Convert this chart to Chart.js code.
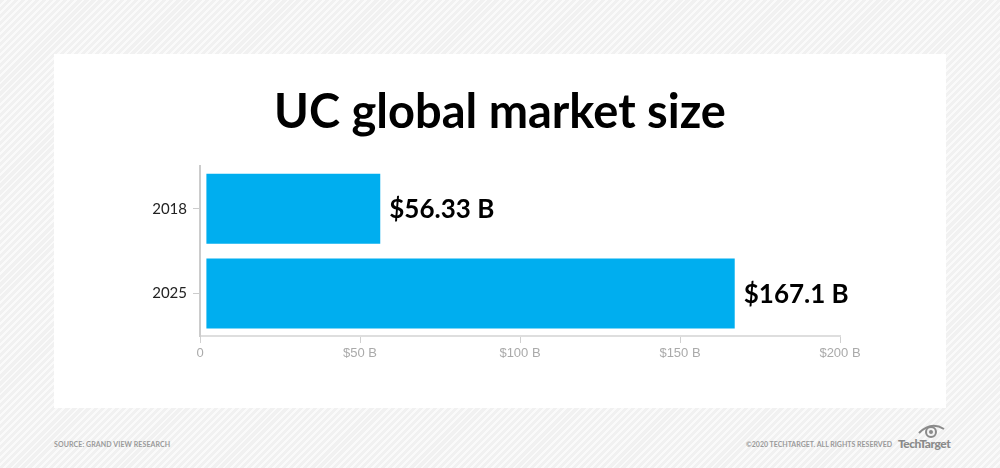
<!DOCTYPE html>
<html>
<head>
<meta charset="utf-8">
<script src="https://cdn.jsdelivr.net/npm/chart.js@4.4.1/dist/chart.umd.min.js"></script>
<style>
  html, body { margin: 0; padding: 0; }
  body {
    width: 1000px; height: 468px; position: relative; overflow: hidden;
    background-color: #f1f1f1;
    background-image: repeating-linear-gradient(135deg, #f1f1f1 0px, #f1f1f1 3px, #fafafa 3px, #fafafa 5px);
    font-family: Lato, "Noto Sans", sans-serif;
  }
  #panel { position: absolute; left: 54px; top: 54px; width: 892px; height: 354px; background: #fff; }
  #source { position: absolute; left: 54px; top: 440px; font-size: 7px; font-weight: bold; color: #9a9a9a; letter-spacing: 0.1px; }
  #copy { position: absolute; right: 108px; top: 440px; font-size: 7px; font-weight: bold; color: #9a9a9a; }
  #logo { position: absolute; left: 898px; top: 436px; font-size: 12px; font-weight: 900; color: #8a8a8a; letter-spacing: -0.5px; font-family: "Liberation Sans Narrow", Lato, sans-serif; }
  #eye { position: absolute; left: 917px; top: 423px; }
</style>
</head>
<body>
<div id="panel"><canvas id="graficoBarras" width="892" height="354"></canvas></div>
<div id="source">SOURCE: GRAND VIEW RESEARCH</div>
<div id="copy">©2020 TECHTARGET. ALL RIGHTS RESERVED</div>
<svg id="eye" width="30" height="16" viewBox="0 0 30 16">
  <path d="M2 10 Q14 -2 27 6" stroke="#8a8a8a" stroke-width="2" fill="none"/>
  <circle cx="14" cy="9" r="5" fill="none" stroke="#8a8a8a" stroke-width="2"/>
  <circle cx="14" cy="9" r="2" fill="#8a8a8a"/>
</svg>
<div id="logo">TechTarget</div>
<script>
// dados do gráfico
var anos = ['2018', '2025'];
var valores = [56.33, 167.1];
var ticksX = [0, 50, 100, 150, 200];

var contexto = document.getElementById('graficoBarras').getContext('2d');

// rótulos de valor ao lado das barras
var rotulosValor = {
    id: 'rotulosValor',
    afterDatasetsDraw: function(chart) {
        var ctx = chart.ctx;
        var meta = chart.getDatasetMeta(0);
        ctx.save();
        ctx.font = 'bold 26px Lato';
        ctx.fillStyle = '#000';
        ctx.textBaseline = 'middle';
        ctx.textAlign = 'left';
        meta.data.forEach(function(barra, i) {
            ctx.fillText('$' + valores[i] + ' B', barra.x + 9, barra.y + 1);
        });
        ctx.restore();
    }
};

var grafico = new Chart(contexto, {
    type: 'bar',
    data: {
        labels: anos,
        datasets: [{
            data: valores,
            backgroundColor: '#00aeef',
            base: 2,
            barPercentage: 0.825,
            categoryPercentage: 1
        }]
    },
    options: {
        indexAxis: 'y',
        responsive: false,
        animation: false,
        layout: { padding: 0 },
        plugins: {
            legend: { display: false },
            tooltip: { enabled: false },
            title: {
                display: true,
                text: 'UC global market size',
                color: '#000',
                font: { family: 'Lato', size: 47, weight: 'bold' },
                padding: { top: 31, bottom: 25 }
            }
        },
        scales: {
            x: {
                min: 0,
                max: 200,
                afterBuildTicks: function(escala) {
                    escala.ticks = ticksX.map(function(v) { return { value: v }; });
                },
                afterFit: function(escala) {
                    escala.height = 72;
                    escala.paddingRight = 106;
                },
                border: { color: '#dedede', width: 2 },
                grid: { drawOnChartArea: false, tickLength: 7, color: '#d0d0d0' },
                ticks: {
                    color: '#aaaaaa',
                    padding: 3,
                    font: { family: '"Liberation Sans Narrow", "Liberation Sans"', size: 13 },
                    callback: function(v) { return v === 0 ? '0' : '$' + v + ' B'; }
                }
            },
            y: {
                afterFit: function(escala) { escala.width = 146; },
                border: { color: '#cccccc', width: 2 },
                grid: { drawOnChartArea: false, offset: false, tickLength: 7, color: '#cccccc' },
                ticks: {
                    color: '#222',
                    padding: 6,
                    font: { family: 'Lato', size: 15 }
                }
            }
        }
    },
    plugins: [rotulosValor]
});
</script>
</body>
</html>
